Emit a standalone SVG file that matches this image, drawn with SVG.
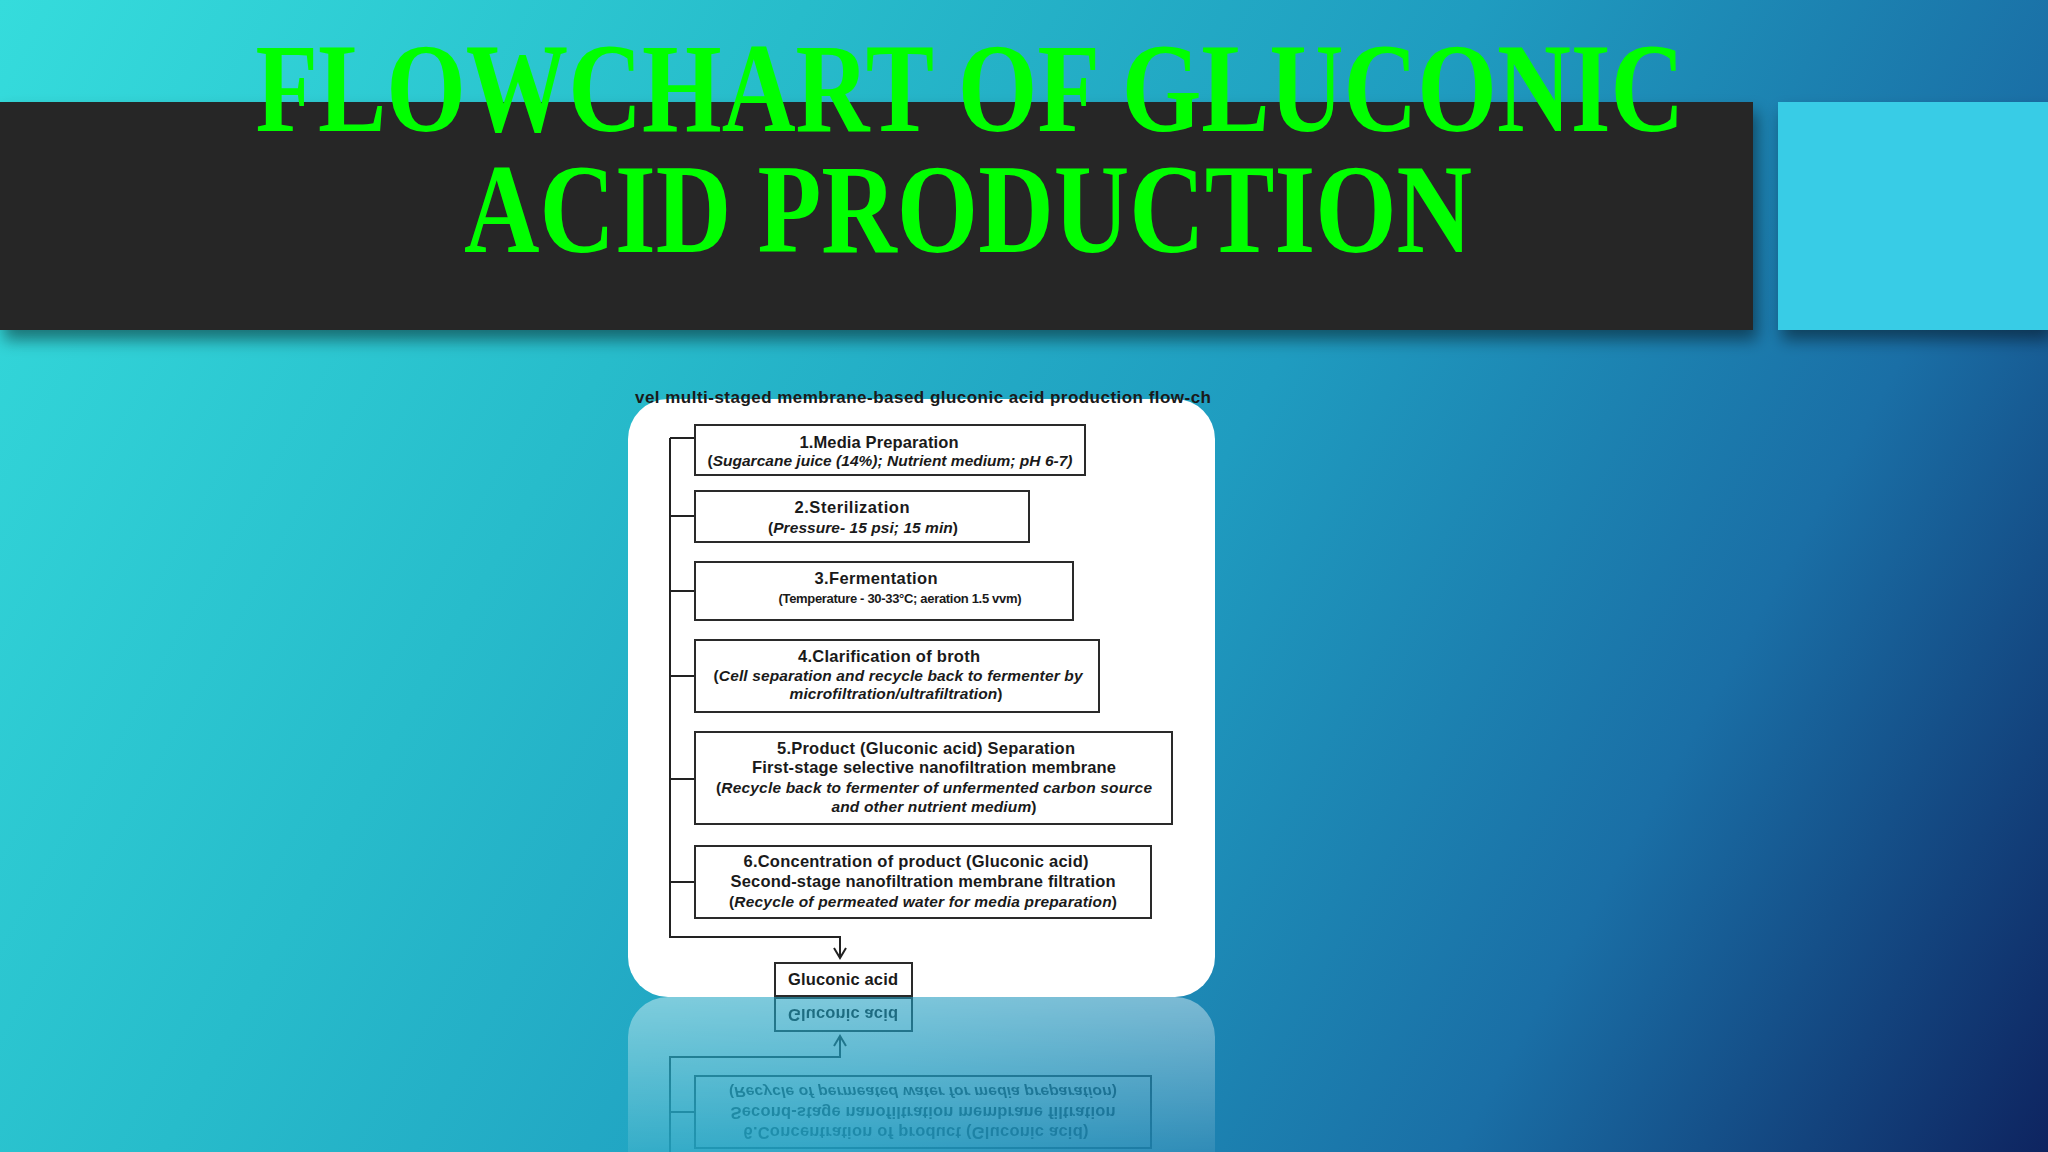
<svg xmlns="http://www.w3.org/2000/svg" width="2048" height="1152" viewBox="0 0 2048 1152">
<defs>
<linearGradient id="bg" gradientUnits="userSpaceOnUse" x1="0" y1="0" x2="2048" y2="1152">
<stop offset="0" stop-color="#35dcdc"/>
<stop offset="0.3" stop-color="#27bccb"/>
<stop offset="0.55" stop-color="#1f9cc0"/>
<stop offset="0.78" stop-color="#1a6fa6"/>
<stop offset="1" stop-color="#0e2460"/>
</linearGradient>
<filter id="shadow" x="-5%" y="-20%" width="110%" height="150%">
<feDropShadow dx="4" dy="10" stdDeviation="8" flood-color="#000" flood-opacity="0.45"/>
</filter>
<marker id="arrow" markerWidth="14" markerHeight="14" refX="12" refY="7" orient="auto" markerUnits="userSpaceOnUse">
<path d="M2,1 L12,7 L2,13" fill="none" stroke="#222" stroke-width="2"/>
</marker>
<linearGradient id="fade" x1="0" y1="0" x2="0" y2="1">
<stop offset="0" stop-color="#fff" stop-opacity="0.42"/>
<stop offset="1" stop-color="#fff" stop-opacity="0.08"/>
</linearGradient>
<mask id="reflMask" maskUnits="userSpaceOnUse" x="600" y="997" width="650" height="160">
<rect x="600" y="997" width="650" height="160" fill="url(#fade)"/>
</mask>
<clipPath id="capClip"><rect x="634" y="380" width="578" height="40"/></clipPath>
</defs>
<style>
.box{fill:#fff;stroke:#2a2a2a;stroke-width:2}
.t{font-family:"Liberation Sans",Arial,sans-serif;font-weight:bold;fill:#1a1a1a;text-anchor:middle}
.h{font-size:16.5px}
.s{font-size:15.5px}
.i{font-style:italic}
.conn{fill:none;stroke:#222;stroke-width:2}
.title{font-family:"Liberation Serif","Times New Roman",serif;font-weight:bold;font-size:126px;fill:#00ff00;text-anchor:middle}
</style>

<rect x="0" y="0" width="2048" height="1152" fill="url(#bg)"/>

<g id="banner">
<rect x="0" y="102" width="1753" height="228" fill="#272727" filter="url(#shadow)"/>
<rect x="1778" y="102" width="270" height="228" fill="#39cce6" filter="url(#shadow)"/>
</g>

<g id="title">
<text class="title" x="970" y="131" textLength="1429" lengthAdjust="spacingAndGlyphs">FLOWCHART OF GLUCONIC</text>
<text class="title" x="968" y="252" textLength="1008" lengthAdjust="spacingAndGlyphs">ACID PRODUCTION</text>
</g>

<g id="card">
<rect x="628" y="399" width="587" height="598" rx="40" ry="40" fill="#fff"/>

<g id="connectors">
<path class="conn" d="M670,438 H695"/>
<path class="conn" d="M670,516 H695"/>
<path class="conn" d="M670,591 H695"/>
<path class="conn" d="M670,676 H695"/>
<path class="conn" d="M670,779 H695"/>
<path class="conn" d="M670,882 H695"/>
<path class="conn" d="M670,438 V937 H840 V958" marker-end="url(#arrow)"/>
</g>

<g id="step1">
<rect class="box" x="695" y="425" width="390" height="50"/>
<text class="t h" x="879" y="448" textLength="159">1.Media Preparation</text>
<text class="t s" x="890" y="466" textLength="365">(<tspan class="i">Sugarcane juice (14%); Nutrient medium; pH 6-7)</tspan></text>
</g>

<g id="step2">
<rect class="box" x="695" y="491" width="334" height="51"/>
<text class="t h" x="852" y="513" textLength="115">2.Sterilization</text>
<text class="t s" x="863" y="533" textLength="190">(<tspan class="i">Pressure- 15 psi; 15 min</tspan>)</text>
</g>

<g id="step3">
<rect class="box" x="695" y="562" width="378" height="58"/>
<text class="t h" x="876" y="584" textLength="123">3.Fermentation</text>
<text class="t" x="900" y="603" font-size="13" textLength="243">(Temperature - 30-33°C; aeration 1.5 vvm)</text>
</g>

<g id="step4">
<rect class="box" x="695" y="640" width="404" height="72"/>
<text class="t h" x="889" y="662" textLength="182">4.Clarification of broth</text>
<text class="t s" x="898" y="681" textLength="369">(<tspan class="i">Cell separation and recycle back to fermenter by</tspan></text>
<text class="t s" x="896" y="699" textLength="213"><tspan class="i">microfiltration/ultrafiltration</tspan>)</text>
</g>

<g id="step5">
<rect class="box" x="695" y="732" width="477" height="92"/>
<text class="t h" x="926" y="754" textLength="298">5.Product (Gluconic acid) Separation</text>
<text class="t h" x="934" y="773" textLength="364">First-stage selective nanofiltration membrane</text>
<text class="t s" x="934" y="793" textLength="436">(<tspan class="i">Recycle back to fermenter of unfermented carbon source</tspan></text>
<text class="t s" x="934" y="812" textLength="205"><tspan class="i">and other nutrient medium</tspan>)</text>
</g>

<g id="step6">
<rect class="box" x="695" y="846" width="456" height="72"/>
<text class="t h" x="916" y="867" textLength="345">6.Concentration of product (Gluconic acid)</text>
<text class="t h" x="923" y="887" textLength="385">Second-stage nanofiltration membrane filtration</text>
<text class="t s" x="923" y="907" textLength="388">(<tspan class="i">Recycle of permeated water for media preparation</tspan>)</text>
</g>

<g id="product">
<rect class="box" x="775" y="963" width="137" height="33"/>
<text class="t h" x="843" y="985" textLength="110">Gluconic acid</text>
</g>
</g>

<g id="caption" clip-path="url(#capClip)">
<text class="t" x="923" y="403" font-size="17" textLength="576" fill="#1a1a1a">vel multi-staged membrane-based gluconic acid production flow-ch</text>
</g>

<g id="reflection" mask="url(#reflMask)">
<use href="#card" transform="translate(0,1994) scale(1,-1)"/>
</g>
</svg>
